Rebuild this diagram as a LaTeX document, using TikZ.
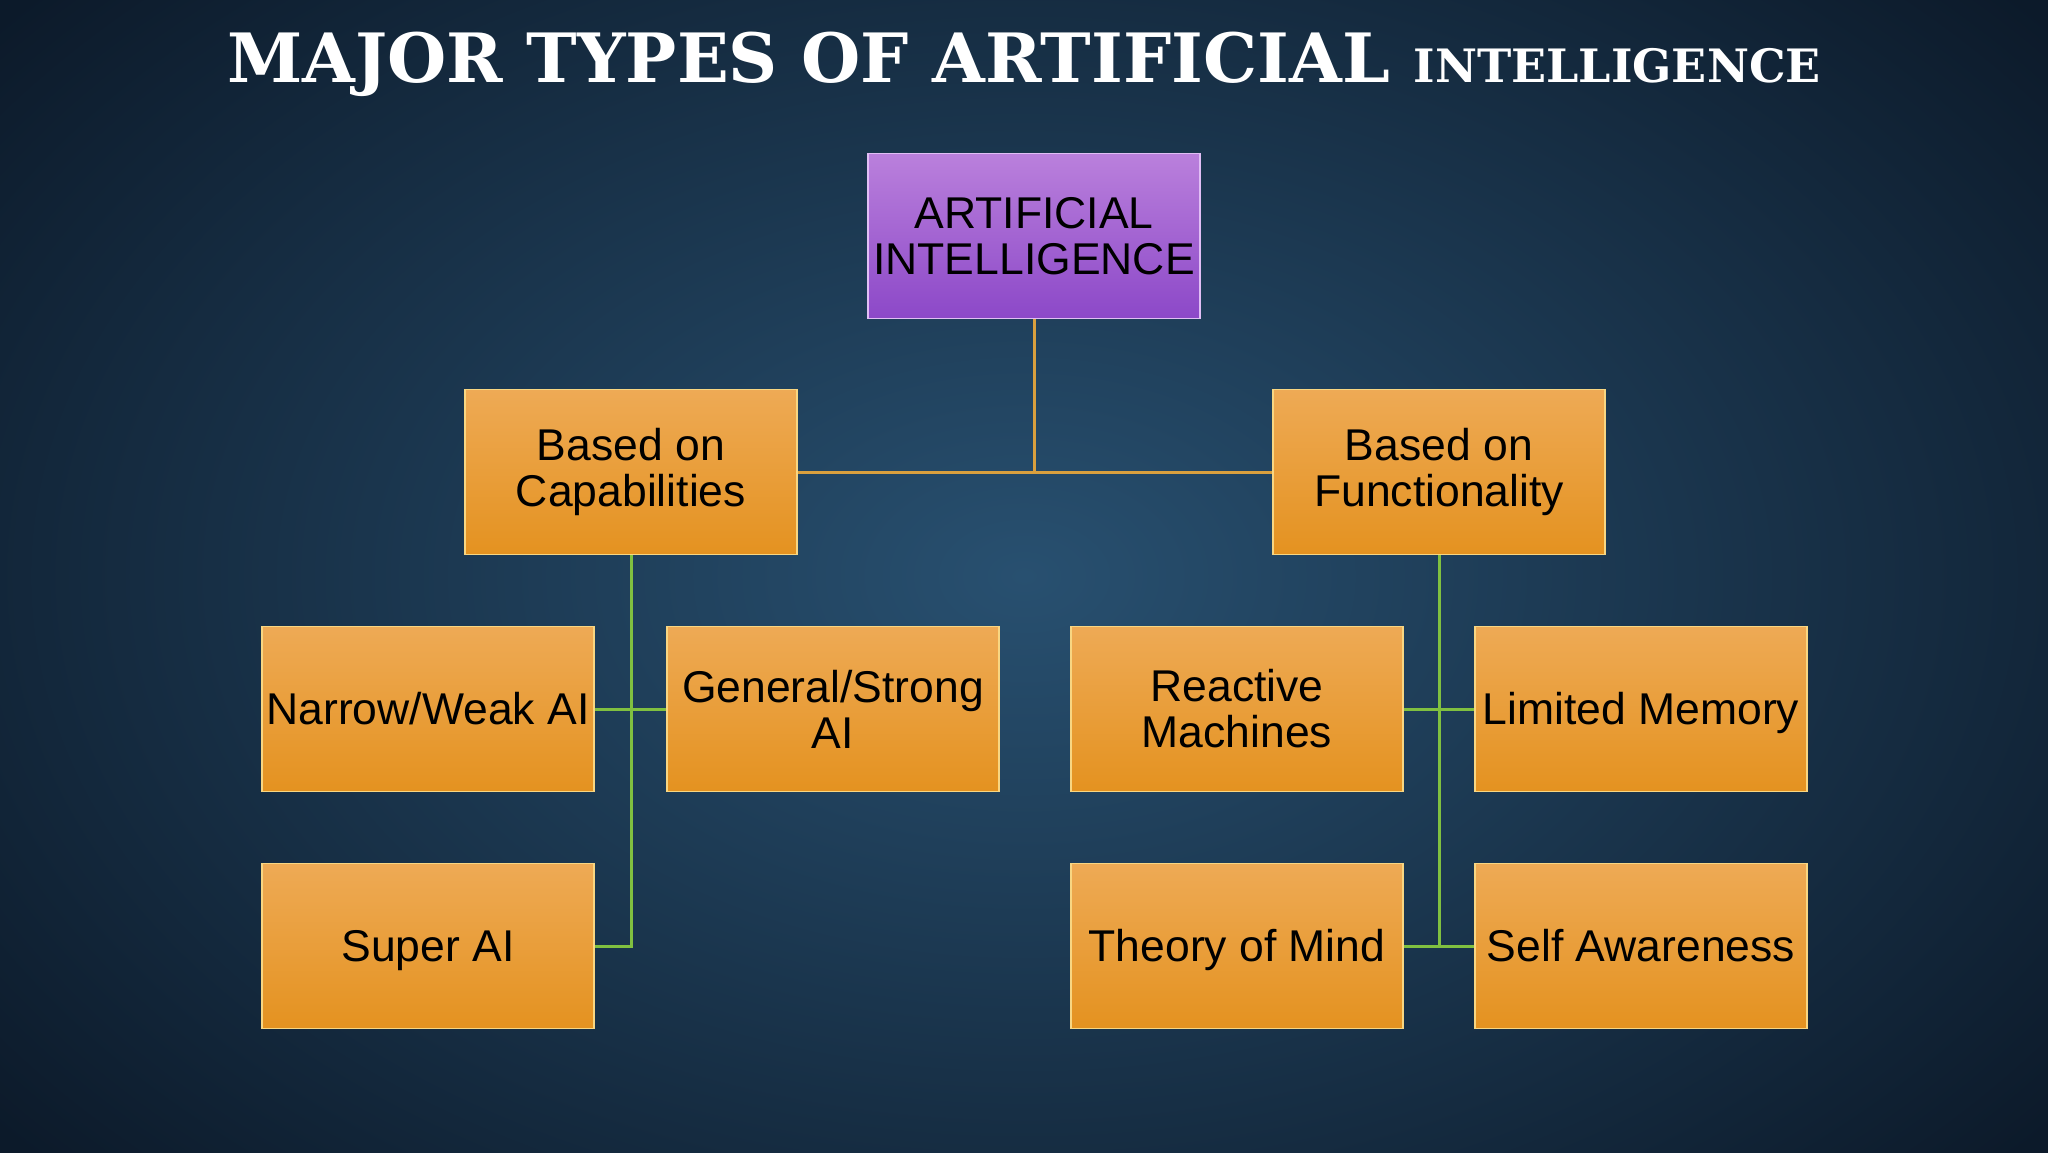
\documentclass[tikz,border=0pt]{standalone}
\usepackage{fontspec}
\setmainfont{Liberation Sans}
\newfontfamily\titlefont{DejaVu Serif}

\definecolor{bginner}{RGB}{40,80,112}
\definecolor{bgouter}{RGB}{12,26,42}
\definecolor{boxtop}{RGB}{238,170,85}
\definecolor{boxbot}{RGB}{228,146,32}
\definecolor{boxedge}{RGB}{248,214,130}
\definecolor{aitop}{RGB}{186,128,220}
\definecolor{aibot}{RGB}{140,72,200}
\definecolor{aiedge}{RGB}{225,190,245}
\definecolor{orangeline}{RGB}{218,160,62}
\definecolor{greenline}{RGB}{128,192,64}

\tikzset{
  box/.style={rectangle, minimum width=332pt, minimum height=165pt, inner sep=0pt,
    align=center, text=black, font=\fontsize{44.5}{46}\selectfont,
    top color=boxtop, bottom color=boxbot, draw=boxedge, line width=1.5pt},
  onebox/.style={box, text height=31.9pt, text depth=0pt},
  aibox/.style={box, top color=aitop, bottom color=aibot, draw=aiedge},
  topline/.style={draw=orangeline, line width=3pt},
  subline/.style={draw=greenline, line width=3pt}
}

\begin{document}
\begin{tikzpicture}[x=1pt,y=-1pt]
        % background
        \useasboundingbox (0,0) rectangle (2048,1152);
        \shade[inner color=bginner, outer color=bgouter] (-300,-300) rectangle (2348,1452);

        % title
        \node[text=white, font=\titlefont\bfseries] (title) at (1024,64)
          {\fontsize{68}{72}\selectfont MAJOR TYPES OF ARTIFICIAL \fontsize{46}{50}\selectfont INTELLIGENCE};

        % boxes
        \node[aibox] (ai) at (1034,236) {ARTIFICIAL\\INTELLIGENCE};
        \node[box] (cap) at (631,472) {Based on\\Capabilities};
        \node[box] (fun) at (1439,472) {Based on\\Functionality};

        \node[onebox] (narrow) at (428,709) {Narrow/Weak AI};
        \node[box] (general) at (833,709) {General/Strong\\AI};
        \node[onebox] (super) at (428,946) {Super AI};

        \node[box] (reactive) at (1237,709) {Reactive\\Machines};
        \node[onebox] (limited) at (1641,709) {Limited Memory};
        \node[onebox] (theory) at (1237,946) {Theory of Mind};
        \node[onebox] (self) at (1641,946) {Self Awareness};

        % connectors
        \draw[topline] (ai.south) -- (ai.south |- cap.east);
        \draw[topline] (cap.east) -- (fun.west);

        \draw[subline] (cap.south) -- (cap.south |- super.east) -- (super.east);
        \draw[subline] (narrow.east) -- (general.west);

        \draw[subline] (fun.south) -- (fun.south |- theory.east);
        \draw[subline] (reactive.east) -- (limited.west);
        \draw[subline] (theory.east) -- (self.west);
      \end{tikzpicture}
\end{document}
